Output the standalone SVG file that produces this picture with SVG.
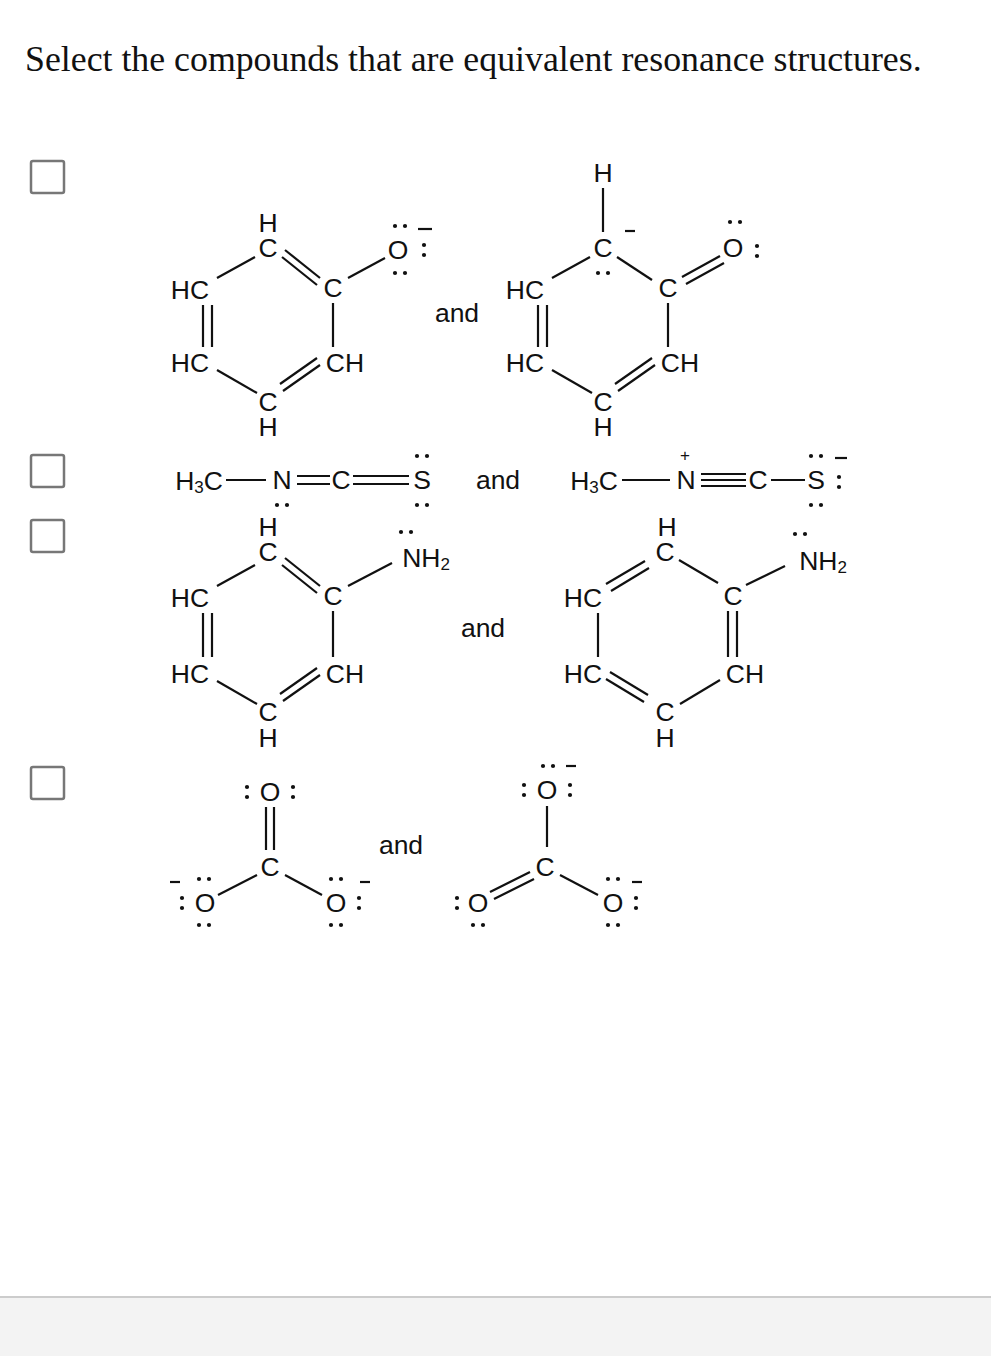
<svg xmlns="http://www.w3.org/2000/svg" width="991" height="1356" viewBox="0 0 991 1356">
<style>
text{font-family:"Liberation Sans",Arial,sans-serif;font-size:26.5px;fill:#111;text-anchor:middle;dominant-baseline:central}
.t{font-family:"Liberation Serif","Times New Roman",serif;font-size:35.8px;text-anchor:start;dominant-baseline:auto}
line{stroke:#111;stroke-width:2.2}
.box{fill:#fff;stroke:#777;stroke-width:2.5}
circle{fill:#111}
</style>
<defs>
<g id="d2"><circle cx="-5" cy="0" r="2.1"/><circle cx="5" cy="0" r="2.1"/></g>
<g id="c2"><circle cx="0" cy="-5" r="2.1"/><circle cx="0" cy="5" r="2.1"/></g>
</defs>
<rect width="991" height="1356" fill="#fff"/>
<text class="t" x="25" y="71">Select the compounds that are equivalent resonance structures.</text>
<rect x="0" y="1297" width="991" height="59" fill="#f3f3f3"/>
<line x1="0" y1="1297" x2="991" y2="1297" style="stroke:#ccc;stroke-width:2"/>
<g id="checkboxes">
<rect class="box" x="31" y="161" width="33" height="32" rx="2"/>
<rect class="box" x="31" y="455" width="33" height="32" rx="2"/>
<rect class="box" x="31" y="520" width="33" height="32" rx="2"/>
<rect class="box" x="31" y="767" width="33" height="32" rx="2"/>
</g>

<g id="phenoxide1">
<text x="268" y="223">H</text><text x="268" y="248">C</text>
<text x="190" y="290">HC</text><text x="333" y="288">C</text>
<text x="190" y="363">HC</text><text x="345" y="363">CH</text>
<text x="268" y="402">C</text><text x="268" y="427">H</text>
<text x="398" y="250">O</text>
<use href="#d2" x="400" y="226"/><use href="#d2" x="400" y="273"/><use href="#c2" x="424" y="250"/>
<line x1="418" y1="229" x2="432" y2="229"/>
<line x1="217" y1="278" x2="255" y2="257"/>
<line x1="282" y1="257" x2="317" y2="285"/><line x1="285" y1="250" x2="320" y2="278"/>
<line x1="348" y1="278" x2="385" y2="258"/>
<line x1="333" y1="303" x2="333" y2="347"/>
<line x1="317" y1="358" x2="280" y2="384"/><line x1="320" y1="365" x2="283" y2="391"/>
<line x1="217" y1="370" x2="257" y2="393"/>
<line x1="203" y1="305" x2="203" y2="347"/><line x1="212" y1="305" x2="212" y2="347"/>
</g>
<text x="457" y="313">and</text>
<g id="phenoxide2">
<text x="603" y="173">H</text><text x="603" y="248">C</text>
<text x="525" y="290">HC</text><text x="668" y="288">C</text>
<text x="525" y="363">HC</text><text x="680" y="363">CH</text>
<text x="603" y="402">C</text><text x="603" y="427">H</text>
<text x="733" y="248">O</text>
<line x1="603" y1="188" x2="603" y2="232"/>
<line x1="625" y1="231" x2="635" y2="231"/>
<use href="#d2" x="603" y="273"/>
<use href="#d2" x="735" y="222"/><use href="#c2" x="757" y="251"/>
<line x1="552" y1="278" x2="590" y2="257"/>
<line x1="617" y1="257" x2="652" y2="280"/>
<line x1="682" y1="277" x2="720" y2="256"/><line x1="686" y1="284" x2="724" y2="263"/>
<line x1="668" y1="303" x2="668" y2="347"/>
<line x1="652" y1="358" x2="615" y2="384"/><line x1="655" y1="365" x2="618" y2="391"/>
<line x1="552" y1="370" x2="592" y2="393"/>
<line x1="538" y1="305" x2="538" y2="347"/><line x1="547" y1="305" x2="547" y2="347"/>
</g>

<g id="isothiocyanate1">
<text x="199" y="481">H<tspan font-size="17" dy="6">3</tspan><tspan dy="-6">C</tspan></text>
<line x1="226" y1="480" x2="266" y2="480"/>
<text x="282" y="480">N</text><use href="#d2" x="282" y="505"/>
<line x1="297" y1="476" x2="330" y2="476"/><line x1="297" y1="484" x2="330" y2="484"/>
<text x="341" y="480">C</text>
<line x1="353" y1="476" x2="409" y2="476"/><line x1="353" y1="484" x2="409" y2="484"/>
<text x="422" y="480">S</text><use href="#d2" x="422" y="456"/><use href="#d2" x="422" y="505"/>
</g>
<text x="498" y="480">and</text>
<g id="isothiocyanate2">
<text x="594" y="481">H<tspan font-size="17" dy="6">3</tspan><tspan dy="-6">C</tspan></text>
<line x1="622" y1="480" x2="670" y2="480"/>
<text x="686" y="480">N</text><text x="685" y="455" style="font-size:17px">+</text>
<line x1="701" y1="474" x2="746" y2="474"/><line x1="701" y1="480" x2="746" y2="480"/><line x1="701" y1="486" x2="746" y2="486"/>
<text x="758" y="480">C</text>
<line x1="771" y1="480" x2="805" y2="480"/>
<text x="816" y="480">S</text><use href="#d2" x="816" y="456"/><use href="#d2" x="816" y="505"/><use href="#c2" x="839" y="482"/>
<line x1="835" y1="458" x2="847" y2="458"/>
</g>

<g id="aniline1">
<text x="268" y="527">H</text><text x="268" y="552">C</text>
<text x="190" y="598">HC</text><text x="333" y="596">C</text>
<text x="190" y="674">HC</text><text x="345" y="674">CH</text>
<text x="268" y="712">C</text><text x="268" y="738">H</text>
<text x="426" y="558">NH<tspan font-size="17" dy="6">2</tspan></text>
<use href="#d2" x="406" y="532"/>
<line x1="217" y1="586" x2="255" y2="565"/>
<line x1="282" y1="565" x2="317" y2="593"/><line x1="285" y1="558" x2="320" y2="586"/>
<line x1="348" y1="586" x2="392" y2="563"/>
<line x1="333" y1="611" x2="333" y2="657"/>
<line x1="317" y1="668" x2="280" y2="694"/><line x1="320" y1="675" x2="283" y2="701"/>
<line x1="217" y1="681" x2="257" y2="704"/>
<line x1="203" y1="613" x2="203" y2="657"/><line x1="212" y1="613" x2="212" y2="657"/>
</g>
<text x="483" y="628">and</text>
<g id="aniline2">
<text x="667" y="527">H</text><text x="665" y="552">C</text>
<text x="583" y="598">HC</text><text x="733" y="596">C</text>
<text x="583" y="674">HC</text><text x="745" y="674">CH</text>
<text x="665" y="712">C</text><text x="665" y="738">H</text>
<text x="823" y="561">NH<tspan font-size="17" dy="6">2</tspan></text>
<use href="#d2" x="800" y="534"/>
<line x1="606" y1="584" x2="645" y2="561"/><line x1="611" y1="591" x2="649" y2="568"/>
<line x1="679" y1="560" x2="718" y2="583"/>
<line x1="746" y1="585" x2="785" y2="566"/>
<line x1="728" y1="611" x2="728" y2="657"/><line x1="737" y1="611" x2="737" y2="657"/>
<line x1="720" y1="680" x2="680" y2="704"/>
<line x1="610" y1="672" x2="648" y2="695"/><line x1="606" y1="679" x2="644" y2="702"/>
<line x1="598" y1="613" x2="598" y2="657"/>
</g>

<g id="carbonate1">
<text x="270" y="792">O</text><use href="#c2" x="247" y="792"/><use href="#c2" x="293" y="792"/>
<line x1="266" y1="807" x2="266" y2="850"/><line x1="274" y1="807" x2="274" y2="850"/>
<text x="270" y="867">C</text>
<text x="205" y="903">O</text><use href="#c2" x="182" y="903"/><use href="#d2" x="204" y="879"/><use href="#d2" x="204" y="925"/>
<line x1="170" y1="882" x2="180" y2="882"/>
<line x1="218" y1="895" x2="257" y2="875"/>
<text x="336" y="903">O</text><use href="#c2" x="359" y="903"/><use href="#d2" x="336" y="879"/><use href="#d2" x="336" y="925"/>
<line x1="360" y1="882" x2="370" y2="882"/>
<line x1="285" y1="875" x2="322" y2="895"/>
</g>
<text x="401" y="845">and</text>
<g id="carbonate2">
<text x="547" y="790">O</text><use href="#c2" x="524" y="790"/><use href="#c2" x="570" y="790"/><use href="#d2" x="548" y="766"/>
<line x1="566" y1="766" x2="576" y2="766"/>
<line x1="547" y1="806" x2="547" y2="847"/>
<text x="545" y="867">C</text>
<text x="478" y="903">O</text><use href="#c2" x="457" y="903"/><use href="#d2" x="478" y="925"/>
<line x1="490" y1="892" x2="530" y2="872"/><line x1="494" y1="899" x2="534" y2="879"/>
<line x1="560" y1="875" x2="598" y2="895"/>
<text x="613" y="903">O</text><use href="#c2" x="636" y="903"/><use href="#d2" x="613" y="879"/><use href="#d2" x="613" y="925"/>
<line x1="632" y1="882" x2="642" y2="882"/>
</g>
</svg>
